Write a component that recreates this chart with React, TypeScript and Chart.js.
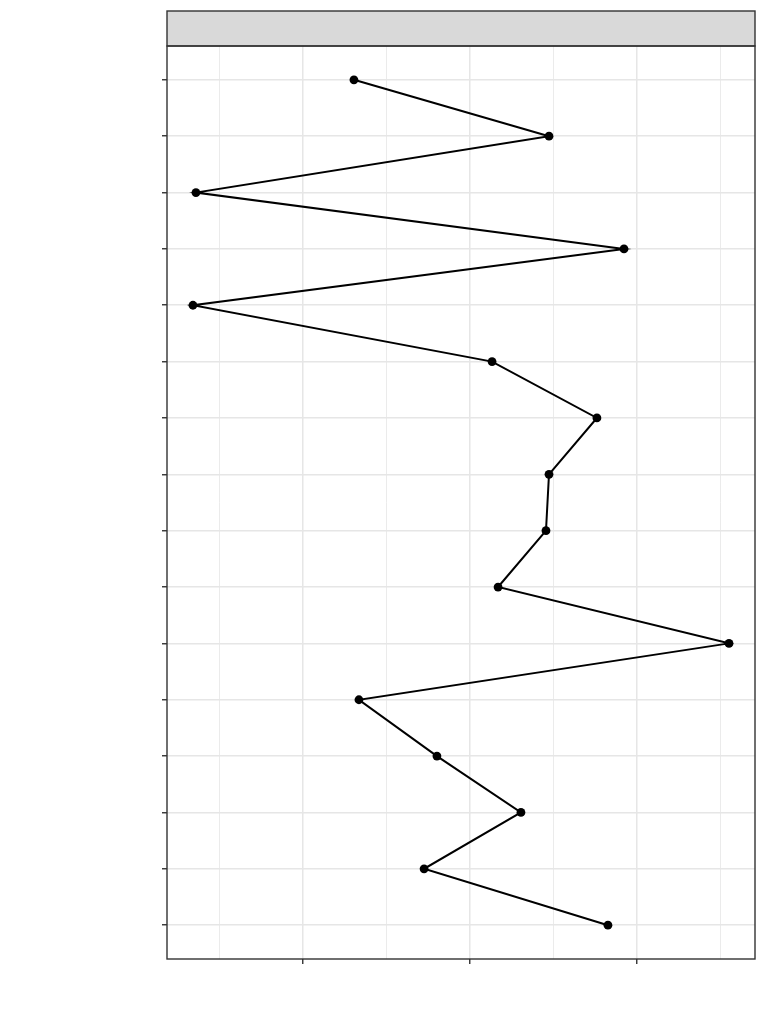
import React, { useEffect, useRef } from "react";
import { Chart, registerables } from "chart.js";

Chart.register(...registerables);

const categories = ["1", "2", "3", "4", "5", "6", "7", "8", "9", "10", "11", "12", "13", "14", "15", "16"];
const values = [1.305, 2.473, 0.359, 2.922, 0.341, 2.132, 2.76, 2.473, 2.455, 2.168, 3.551, 1.335, 1.802, 2.305, 1.725, 2.826];
const xMajorTicks = [1, 2, 3];
const xAllTicks = [0.5, 1, 1.5, 2, 2.5, 3, 3.5];

const stripPlugin = {
  id: "strip",
  afterDraw(chart: any) {
    const { ctx, chartArea } = chart;
    const { left, right, top, bottom } = chartArea;
    ctx.save();
    ctx.fillStyle = "#D9D9D9";
    ctx.fillRect(left, 11, right - left, top - 11);
    ctx.strokeStyle = "#333333";
    ctx.lineWidth = 1.4;
    ctx.strokeRect(left, 11, right - left, top - 11);
    ctx.strokeRect(left, top, right - left, bottom - top);
    ctx.restore();
  },
};

export default function App() {
  const ref = useRef<HTMLCanvasElement | null>(null);
  useEffect(() => {
    if (!ref.current) return;
    const chart = new Chart(ref.current, {
      type: "scatter",
      data: {
        datasets: [
          {
            data: values.map((v, i) => ({ x: v, y: i + 1 })),
            showLine: true,
            borderColor: "#000000",
            backgroundColor: "#000000",
            borderWidth: 2,
            pointRadius: 4.4,
            pointBorderWidth: 0,
            pointBackgroundColor: "#000000",
          },
        ],
      },
      options: {
        animation: false,
        responsive: false,
        maintainAspectRatio: false,
        layout: { padding: { left: 157, right: 13, top: 46, bottom: 55 } },
        plugins: { legend: { display: false }, tooltip: { enabled: false } },
        scales: {
          x: {
            type: "linear",
            min: 0.1856,
            max: 3.7066,
            afterBuildTicks: (s: any) => {
              s.ticks = xAllTicks.map((v) => ({ value: v }));
            },
            afterFit: (s: any) => {
              s.height = 10;
            },
            ticks: { display: false },
            border: { display: false },
            grid: {
              color: "#E6E6E6",
              lineWidth: (c: any) => (xMajorTicks.includes(c.tick?.value) ? 1.5 : 0.8),
              tickColor: (c: any) => (xMajorTicks.includes(c.tick?.value) ? "#333333" : "rgba(0,0,0,0)"),
              tickWidth: 1.4,
              tickLength: 5,
              drawTicks: true,
            },
          },
          y: {
            type: "linear",
            min: 0.4,
            max: 16.6,
            reverse: true,
            afterBuildTicks: (s: any) => {
              s.ticks = categories.map((_, i) => ({ value: i + 1 }));
            },
            afterFit: (s: any) => {
              s.width = 10;
            },
            ticks: { display: false },
            border: { display: false },
            grid: {
              color: "#E6E6E6",
              lineWidth: 1.5,
              tickColor: "#333333",
              tickWidth: 1.4,
              tickLength: 5,
              drawTicks: true,
            },
          },
        },
      },
      plugins: [stripPlugin],
    });
    return () => chart.destroy();
  }, []);
  return (
    <div style={{ position: "absolute", left: 0, top: 0, width: 768, height: 1024, background: "#fff" }}>
      <canvas ref={ref} width={768} height={1024} style={{ width: 768, height: 1024 }} />
    </div>
  );
}
